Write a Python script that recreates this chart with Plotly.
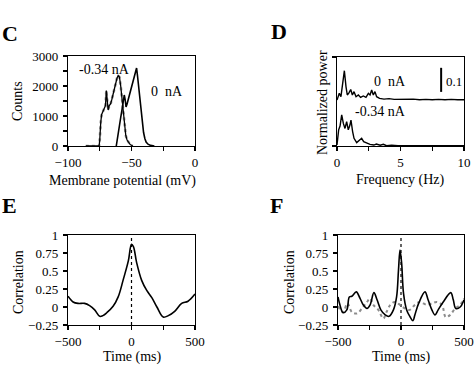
import plotly.graph_objects as go

# ---------------- data ----------------
# Panel C: membrane potential histograms
vm_neg = [-86, -82, -78, -75.5, -75.0, -74.2, -73.5, -72.5, -71.5, -70.5, -69.8, -69.2, -68.4, -67.5,
          -66.5, -65.5, -64.5, -63.5, -62.5, -61.5, -60.5, -59.5, -58.5, -57.5, -56.5, -55.5,
          -54.5, -53.5, -52.5, -51.0, -49.0]
counts_neg = [0, 10, 0, 0, 200, 800, 1050, 1150, 1250, 1350, 1850, 1500, 1200, 1350,
              1400, 1550, 1750, 1950, 2100, 2250, 2350, 2300, 2000, 1600, 1050, 650,
              350, 200, 120, 50, 0]
vm_zero = [-62.0, -61.5, -60.5, -59.5, -58.5, -57.5, -56.5, -55.7, -55.0, -54.3, -53.5, -52.5,
           -51.5, -50.5, -49.5, -48.5, -47.5, -46.7, -46.0, -45.3, -44.5, -43.5, -42.5, -41.5,
           -40.5, -39.5, -38.5, -37.0, -35.0, -32.0]
counts_zero = [0, 150, 500, 750, 950, 1200, 1450, 1700, 1550, 1300, 1400, 1550,
               1700, 1850, 2000, 2150, 2300, 2500, 2600, 2350, 2000, 1600, 1150, 750,
               450, 250, 130, 60, 20, 0]

# Panel D: normalized power spectra
freq_zero = [0, 0.18, 0.31, 0.45, 0.58, 0.71, 0.81, 0.94, 1.08, 1.21, 1.34, 1.5, 1.68, 1.86,
             2.07, 2.28, 2.47, 2.6, 2.73, 2.86, 2.99, 3.12, 3.35, 3.7, 4.1, 4.5, 5.0, 5.5,
             6.0, 6.5, 7.0, 7.5, 8.0, 8.5, 9.0, 9.5, 10]
power_zero = [0, .028, .014, .069, .122, .055, .021, .030, .044, .021, .035, .014, .021, .011,
              .017, .011, .028, .021, .042, .021, .035, .014, .007, .004, .006, .003, .004, .003,
              .004, .001, .003, .001, .003, .001, .003, .001, .001]
freq_neg = [0, 0.13, 0.24, 0.37, 0.5, 0.63, 0.76, 0.89, 1.02, 1.1, 1.23, 1.34, 1.55, 1.76,
            1.94, 2.1, 2.34, 2.6, 2.9, 3.1, 3.4, 3.65, 3.9, 4.3, 4.8, 5.5, 6.0, 6.5, 7.0,
            7.5, 8.0, 8.5, 9.0, 9.5, 10]
power_neg = [.004, .067, .083, .129, .094, .073, .101, .067, .087, .108, .060, .032, .014, .025,
             .032, .018, .011, .007, .004, .008, .003, .007, .001, .003, .001, .001, .003, .001,
             .001, .003, .001, .001, .003, .001, .001]
power_offset = 0.191
scale_bar = 0.1

# Panel E: autocorrelation
lag_e = [-500, -460, -420, -370, -330, -290, -250, -225, -195, -145, -105, -65, -25, 0, 15,
         40, 80, 120, 160, 200, 250, 290, 340, 395, 445, 500]
corr_e = [0.15, 0.07, 0.05, 0.05, 0.02, -0.04, -0.13, -0.12, -0.08, 0.01, 0.14, 0.38, 0.64,
          0.87, 0.84, 0.62, 0.37, 0.23, 0.13, 0.00, -0.14, -0.12, -0.06, 0.05, 0.08, 0.18]

# Panel F: cross-correlation (solid) and control (grey dotted)
lag_f = [-500, -485, -460, -430, -410, -390, -355, -325, -300, -270, -245, -215, -190, -160,
         -125, -95, -60, -35, -20, -8, 5, 20, 45, 70, 95, 110, 140, 190, 215, 245, 270, 295,
         335, 395, 415, 435, 470, 500]
corr_f = [0.14, 0.03, -0.08, -0.04, 0.14, 0.15, 0.21, 0.12, 0.03, -0.02, 0.03, 0.20, 0.10,
          -0.04, -0.11, -0.13, -0.04, 0.14, 0.51, 0.79, 0.61, 0.19, -0.04, -0.13, -0.19, -0.11,
          0.05, 0.21, 0.10, -0.04, -0.11, -0.04, 0.07, 0.20, 0.10, -0.02, 0.00, 0.10]
lag_g = [-500, -460, -425, -390, -350, -310, -270, -245, -220, -180, -140, -115, -85, -50, -8,
         30, 70, 110, 150, 205, 245, 285, 325, 355, 390, 430, 470, 500]
corr_g = [0.01, -0.07, 0.05, -0.07, -0.09, -0.02, 0.07, 0.12, 0.03, -0.04, -0.16, -0.07, 0.03,
          0.07, 0.03, -0.02, -0.04, 0.03, 0.07, 0.03, 0.05, 0.07, 0.03, -0.14, -0.11, -0.02,
          0.03, 0.12]

# ---------------- figure ----------------
W, H = 474, 367
FONT = "Liberation Serif"


def fx(px):
    return px / W


def fy(py):
    return 1 - py / H


fig = go.Figure()

fig.add_trace(go.Scatter(x=vm_neg, y=counts_neg, mode="lines",
                         line=dict(color="#a0a0a0", width=2.6, dash="dot"), xaxis="x", yaxis="y"))
fig.add_trace(go.Scatter(x=vm_neg, y=counts_neg, mode="lines", line=dict(color="black", width=1.3),
                         xaxis="x", yaxis="y"))
fig.add_trace(go.Scatter(x=vm_zero, y=counts_zero, mode="lines", line=dict(color="black", width=1.6),
                         xaxis="x", yaxis="y"))

fig.add_trace(go.Scatter(x=freq_zero, y=[p + power_offset for p in power_zero], mode="lines",
                         line=dict(color="black", width=1.4), xaxis="x2", yaxis="y2"))
fig.add_trace(go.Scatter(x=freq_neg, y=power_neg, mode="lines",
                         line=dict(color="black", width=1.4), xaxis="x2", yaxis="y2"))

fig.add_trace(go.Scatter(x=lag_e, y=corr_e, mode="lines",
                         line=dict(color="black", width=1.6, shape="spline"), xaxis="x3", yaxis="y3"))

fig.add_trace(go.Scatter(x=lag_g, y=corr_g, mode="lines",
                         line=dict(color="#8c8c8c", width=2, dash="dot", shape="spline"),
                         xaxis="x4", yaxis="y4"))
fig.add_trace(go.Scatter(x=lag_f, y=corr_f, mode="lines",
                         line=dict(color="black", width=1.6, shape="spline"), xaxis="x4", yaxis="y4"))

tickfont = dict(family=FONT, size=13, color="black")
minor_style = dict(ticks="outside", ticklen=4, tickcolor="black", tickwidth=1.2, showgrid=False)


def xax(domain, rng, dtick, minor_dtick, anchor):
    return dict(domain=domain, range=rng, dtick=dtick, tick0=rng[0], showline=True, linecolor="black",
                linewidth=1.2, mirror=True, ticks="outside", ticklen=4, tickcolor="black", tickwidth=1.2,
                showgrid=False, zeroline=False, tickfont=tickfont, anchor=anchor, fixedrange=True,
                automargin=False, minor=dict(dtick=minor_dtick, **minor_style))


def yax(domain, rng, anchor, **kw):
    d = dict(domain=domain, range=rng, showline=True, linecolor="black", linewidth=1.2, mirror=True,
             ticks="outside", ticklen=4, tickcolor="black", tickwidth=1.2, showgrid=False, zeroline=False,
             tickfont=tickfont, anchor=anchor, fixedrange=True, automargin=False, ticklabelstandoff=2)
    d.update(kw)
    return d


cx = [fx(68), fx(195)]
dx = [fx(337), fx(464)]
ex = [fx(68), fx(195)]
fxd = [fx(338), fx(464)]
top_y = [fy(146), fy(56)]
bot_y = [fy(325), fy(235)]

fig.update_layout(
    template="none",
    width=W, height=H, margin=dict(l=0, r=0, t=0, b=0, pad=0, autoexpand=False),
    paper_bgcolor="white", plot_bgcolor="white", showlegend=False,
    font=dict(family=FONT, size=13, color="black"),
    xaxis=xax(cx, [-100, 0], 50, 25, "y"),
    yaxis=yax(top_y, [0, 3000], "x", dtick=1000, tick0=0, minor=dict(dtick=500, **minor_style)),
    xaxis2=xax(dx, [0, 10], 5, 2.5, "y2"),
    yaxis2=yax([fy(146), fy(57)], [0, 0.37], "x2", tickvals=[0, 0.37], showticklabels=False),
    xaxis3=xax(ex, [-500, 500], 500, 250, "y3"),
    yaxis3=yax(bot_y, [-0.25, 1], "x3", dtick=0.25, tick0=-0.25, tickformat="~g"),
    xaxis4=xax(fxd, [-500, 500], 500, 250, "y4"),
    yaxis4=yax(bot_y, [-0.25, 1], "x4", dtick=0.25, tick0=-0.25, tickformat="~g"),
)

# dotted zero-lag lines
for xr, yr in (("x3", "y3"), ("x4", "y4")):
    fig.add_shape(type="line", xref=xr, yref=yr, x0=0, x1=0, y0=-0.25, y1=1,
                  line=dict(color="black", width=1.2, dash="dot"), layer="below")

# scale bar in D
fig.add_shape(type="line", xref="x2", yref="y2", x0=8.2, x1=8.2, y0=0.225, y1=0.225 + scale_bar,
              line=dict(color="black", width=2))

ann = []


def txt(text, x, y, size=13, angle=0, bold=False):
    ann.append(dict(text=("<b>%s</b>" % text) if bold else text, x=fx(x), y=fy(y), xref="paper",
                    yref="paper", showarrow=False, textangle=angle, xanchor="center", yanchor="middle",
                    font=dict(family=FONT, size=size, color="black")))


# panel letters
txt("C", 10, 33, 22, bold=True)
txt("D", 279, 32, 22, bold=True)
txt("E", 9, 205, 22, bold=True)
txt("F", 276, 205, 22, bold=True)

# axis titles
txt("Counts", 18, 101, 14, angle=-90)
txt("Membrane potential (mV)", 122, 181, 14)
txt("Normalized power", 322, 103, 14, angle=-90)
txt("Frequency (Hz)", 400, 180, 14)
txt("Correlation", 18, 282, 14, angle=-90)
txt("Time (ms)", 132, 357, 14)
txt("Correlation", 289, 282, 14, angle=-90)
txt("Time (ms)", 401, 357, 14)

# in-plot labels
txt("-0.34 nA", 104, 69, 14)
txt("0  nA", 167, 92, 14)
txt("0  nA", 390, 81, 14)
txt("-0.34 nA", 380, 111, 14)
txt("0.1", 454, 81, 13)

fig.update_layout(annotations=ann)
fig.write_html(
    "out.html",
    config={"displayModeBar": False, "staticPlot": True},
    post_script="document.body.style.margin='0';document.body.style.padding='0';"
                "document.body.style.overflow='hidden';",
)
